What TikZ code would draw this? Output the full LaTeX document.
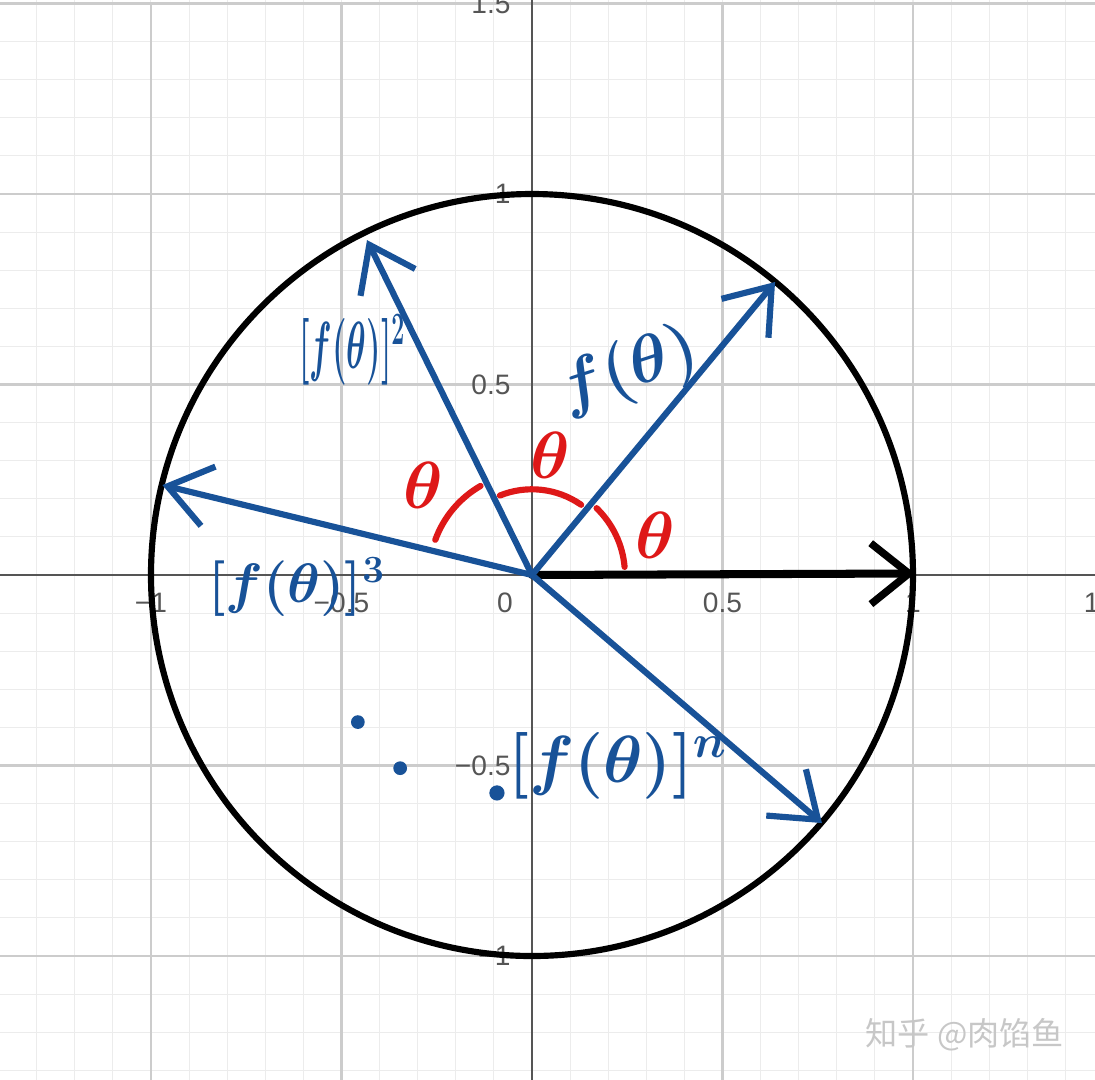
\documentclass[tikz,border=0pt]{standalone}
\usepackage{fontspec}
\usetikzlibrary{arrows.meta}
\newfontfamily\ticksfont{Liberation Sans}
\newfontfamily\cjkfont{Noto Sans CJK SC}
\definecolor{penblue}{RGB}{24,82,152}
\definecolor{penred}{RGB}{222,24,24}
\definecolor{axisgray}{RGB}{85,85,85}

\begin{document}
\begin{tikzpicture}[x=5cm, y=5cm,
    vector/.style={penblue, line width=2.3pt, line cap=round, -{Straight Barb[length=0.55cm, width=0.8cm, line width=2.3pt]}},
    angle arc/.style={penred, line width=2.3pt, line cap=round},
    tick label/.style={font=\ticksfont\fontsize{10.5}{12}\selectfont, text=axisgray, inner sep=1pt},
    hand label/.style={text=penblue, font=\fontsize{24}{28}\selectfont\boldmath},
    theta label/.style={text=penred, font=\fontsize{24}{28}\selectfont\boldmath}]
        \tikzstyle{every node}=[inner sep=0pt]

        \useasboundingbox[fill=white] (-1.3963,-1.3228) rectangle (1.4777,1.5092);
        \clip (-1.3963,-1.3228) rectangle (1.4777,1.5092);

        \draw[gray!15, line width=0.4pt, step=0.1] (-1.5,-1.4) grid (1.5,1.6);
        \draw[gray!40, line width=0.8pt, step=0.5] (-1.5,-1.5) grid (1.5,1.5);
        \draw[axisgray, line width=0.8pt] (-1.5,0) -- (1.5,0) (0,-1.5) -- (0,1.6);

        \foreach \v/\t [count=\i] in {-1/−1, -0.5/−0.5, 0.5/0.5, 1/1, 1.5/1.5}
          \node[tick label] (xt\i) at (\v,-0.0735) {\t};
        \foreach \v/\t [count=\i] in {-1/−1, -0.5/−0.5, 0.5/0.5, 1/1, 1.5/1.5}
          \node[tick label, anchor=east] (yt\i) at (-0.048,\v) {\t};
        \node[tick label] (zero) at (-0.071,-0.0735) {0};

        \coordinate (O) at (0,0);
        \coordinate (0) at (1.005,0.004);
        \coordinate (1) at (0.638,0.769);
        \coordinate (2) at (-0.433,0.879);
        \coordinate (3) at (-0.970,0.236);
        \coordinate (4) at (0.761,-0.651);

        \draw[black, line width=2.3pt] (O) circle[radius=1];

        \draw[angle arc] (5:0.244) arc[start angle=5, end angle=46, radius=0.244];
        \draw[angle arc] (55:0.225) arc[start angle=55, end angle=112, radius=0.225];
        \draw[angle arc] (120:0.27) arc[start angle=120, end angle=160, radius=0.27];

        \draw[black, line width=3pt, line cap=round, -{Straight Barb[length=0.5cm, width=0.8cm, line width=2.8pt]}] (O) -- (0);
        \draw[vector] (O) -- (1);
        \draw[vector] (O) -- (2);
        \draw[vector] (O) -- (3);
        \draw[vector] (O) -- (4);

        \node[theta label] (t1) at (0.323,0.105) {$\theta$};
        \node[theta label] (t2) at (0.047,0.315) {$\theta$};
        \node[theta label] (t3) at (-0.286,0.236) {$\theta$};

        \node[hand label, rotate=18] (l1) at (0.255,0.535) {$f(\theta)$};
        \node[hand label, font=\fontsize{27}{32}\selectfont\boldmath] (l2) at (-0.472,0.591) {\scalebox{0.5}[1]{$[f(\theta)]^2$}};
        \node[hand label, font=\fontsize{22}{26}\selectfont\boldmath] (l3) at (-0.617,-0.031) {$[f(\theta)]^3$};
        \node[hand label, font=\fontsize{27}{32}\selectfont\boldmath] (l4) at (0.225,-0.5) {$[f(\theta)]^n$};

        \fill[penblue] (-0.457,-0.386) circle[radius=0.018];
        \fill[penblue] (-0.346,-0.507) circle[radius=0.018];
        \fill[penblue] (-0.092,-0.572) circle[radius=0.02];

        \node[text=black!22, font=\cjkfont\fontsize{12}{14}\selectfont] (wm) at (1.136,-1.207) {知乎 @肉馅鱼};
\end{tikzpicture}
\end{document}
